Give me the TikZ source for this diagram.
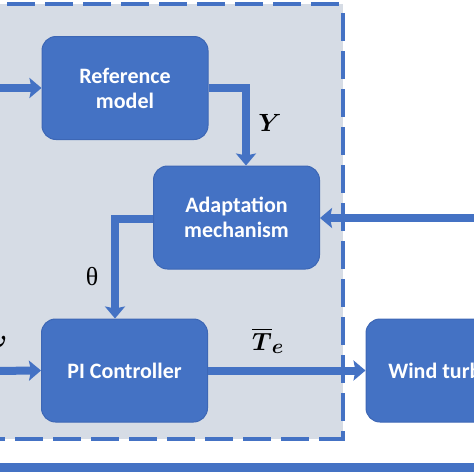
\documentclass[tikz,border=0pt]{standalone}
\usepackage{fontspec}
\usepackage{amsmath,bm}
\setmainfont{Carlito}
\newfontfamily\serifgr{Liberation Serif}
\usetikzlibrary{arrows.meta}
\definecolor{boxblue}{HTML}{4472C4}
\definecolor{boxedge}{HTML}{3D67B5}
\definecolor{panel}{HTML}{D6DCE5}
\tikzset{
  blk/.style={draw=boxedge, line width=1pt, fill=boxblue, rounded corners=14pt,
    minimum width=166pt, minimum height=103pt, inner sep=0pt,
    text=white, font=\fontsize{22}{25}\selectfont\bfseries, align=center},
  arr/.style={draw=boxblue, line width=8pt,
    -{Stealth[width=20pt,length=12pt,inset=2pt]}},
  dashln/.style={draw=boxblue, line width=3.5pt, dash pattern=on 28pt off 10pt},
  lbl/.style={text=black, inner sep=0pt}
}
\begin{document}
\begin{tikzpicture}[x=1pt,y=-1pt]
\useasboundingbox (0,0) rectangle (474,474);
\clip (0,0) rectangle (474,474);
% shaded panel
\fill[panel] (-20,4) rectangle (343,439);
\draw[dashln] (7,4) -- (343,4);
\draw[dashln] (343,13) -- (343,441);
\draw[dashln] (-23,439) -- (343,439);
% blocks
\node[blk] (ref) at (125,88) {Reference\\model};
\node[blk] (adapt) at (236.5,217.5) {Adaptation\\mechanism};
\node[blk] (pi) at (124.5,370.5) {PI Controller};
\node[blk] (wt) at (449,370.5) {Wind turbine};
% input coordinates
\coordinate (inref) at (-10,88);
\coordinate (inpi) at (-10,371);
\coordinate (infb) at (490,218);
% connectors
\draw[arr] (inref) -- (ref.west);
\draw[arr] (ref.east) -| ([xshift=9.5pt]adapt.north);
\draw[arr] (infb) -- (adapt.east |- infb);
\draw[arr] (adapt.west |- 0,219) -| ([xshift=-9.5pt]pi.north);
\draw[arr] (inpi) -- (pi.west);
\draw[arr] (pi.east) -- (wt.west);
% labels
\node[lbl] (ly) at (270,123) {\fontsize{26}{28}\selectfont$\bm{Y}$};
\node[lbl] (lth) at (92,277) {\fontsize{26}{28}\selectfont\serifgr θ};
\node[lbl] (lte) at (268,341) {\fontsize{28}{30}\selectfont$\bm{\overline{T}_{e}}$};
\node[lbl, anchor=east] (lw) at (7,342) {\fontsize{24}{26}\selectfont$\bm{\omega}$};
% bottom band
\coordinate (bl) at (-5,467);
\coordinate (br) at (480,467);
\draw[boxblue, line width=9pt] (bl) -- (br);
\end{tikzpicture}
\end{document}
